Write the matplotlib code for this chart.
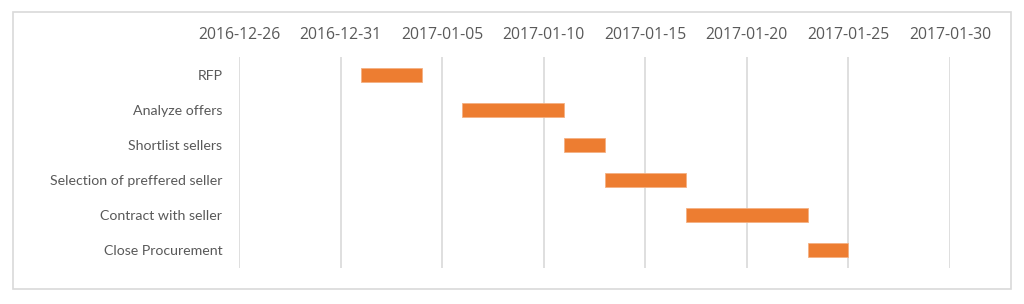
import datetime as dt
import matplotlib
matplotlib.use("Agg")
import matplotlib.pyplot as plt
import matplotlib.dates as mdates
from matplotlib.patches import Rectangle

# task data
tasks = ["RFP", "Analyze offers", "Shortlist sellers",
         "Selection of preffered seller", "Contract with seller",
         "Close Procurement"]
starts = ["2017-01-01", "2017-01-06", "2017-01-11",
          "2017-01-13", "2017-01-17", "2017-01-23"]
durations = [3, 5, 2, 4, 6, 2]

plt.rcParams['font.family'] = ['Open Sans', 'DejaVu Sans']
grey = '#595959'

start_dates = [dt.datetime.strptime(s, "%Y-%m-%d") for s in starts]
lefts = mdates.date2num(start_dates)

fig = plt.figure(figsize=(10.24, 3.04), dpi=100)
ax = fig.add_axes([239/1024, 1-268/304, (950-239)/1024, (268-57)/304])

ypos = list(range(len(tasks)))
ax.barh(ypos, durations, left=lefts, height=0.4, color='#ED7D31',
        edgecolor='#F4B183', linewidth=0.6, zorder=3)

ax.set_yticks(ypos)
ax.set_yticklabels(tasks, family=['Lato', 'DejaVu Sans'], fontsize=10.2)
ax.set_ylim(len(tasks) - 0.5, -0.5)

x0 = mdates.date2num(dt.datetime(2016, 12, 26))
x1 = mdates.date2num(dt.datetime(2017, 1, 30))
ax.set_xlim(x0, x1)
ticks = [x0 + 5*i for i in range(8)]
ax.set_xticks(ticks)
ax.xaxis.set_major_formatter(mdates.DateFormatter("%Y-%m-%d"))
ax.xaxis.tick_top()

ax.tick_params(axis='x', length=0, pad=10, labelsize=11.3, colors=grey)
ax.tick_params(axis='y', length=0, pad=12, colors=grey)
ax.grid(axis='x', color='#D9D9D9', linewidth=1.2, zorder=0)
ax.set_axisbelow(True)
for s in ax.spines.values():
    s.set_visible(False)

fig.patches.append(Rectangle((13/1024, 1-289/304), (1011-13)/1024, (289-12)/304,
                             transform=fig.transFigure, fill=False,
                             edgecolor='#D9D9D9', linewidth=1.2))

fig.savefig("out.png", dpi=100)
